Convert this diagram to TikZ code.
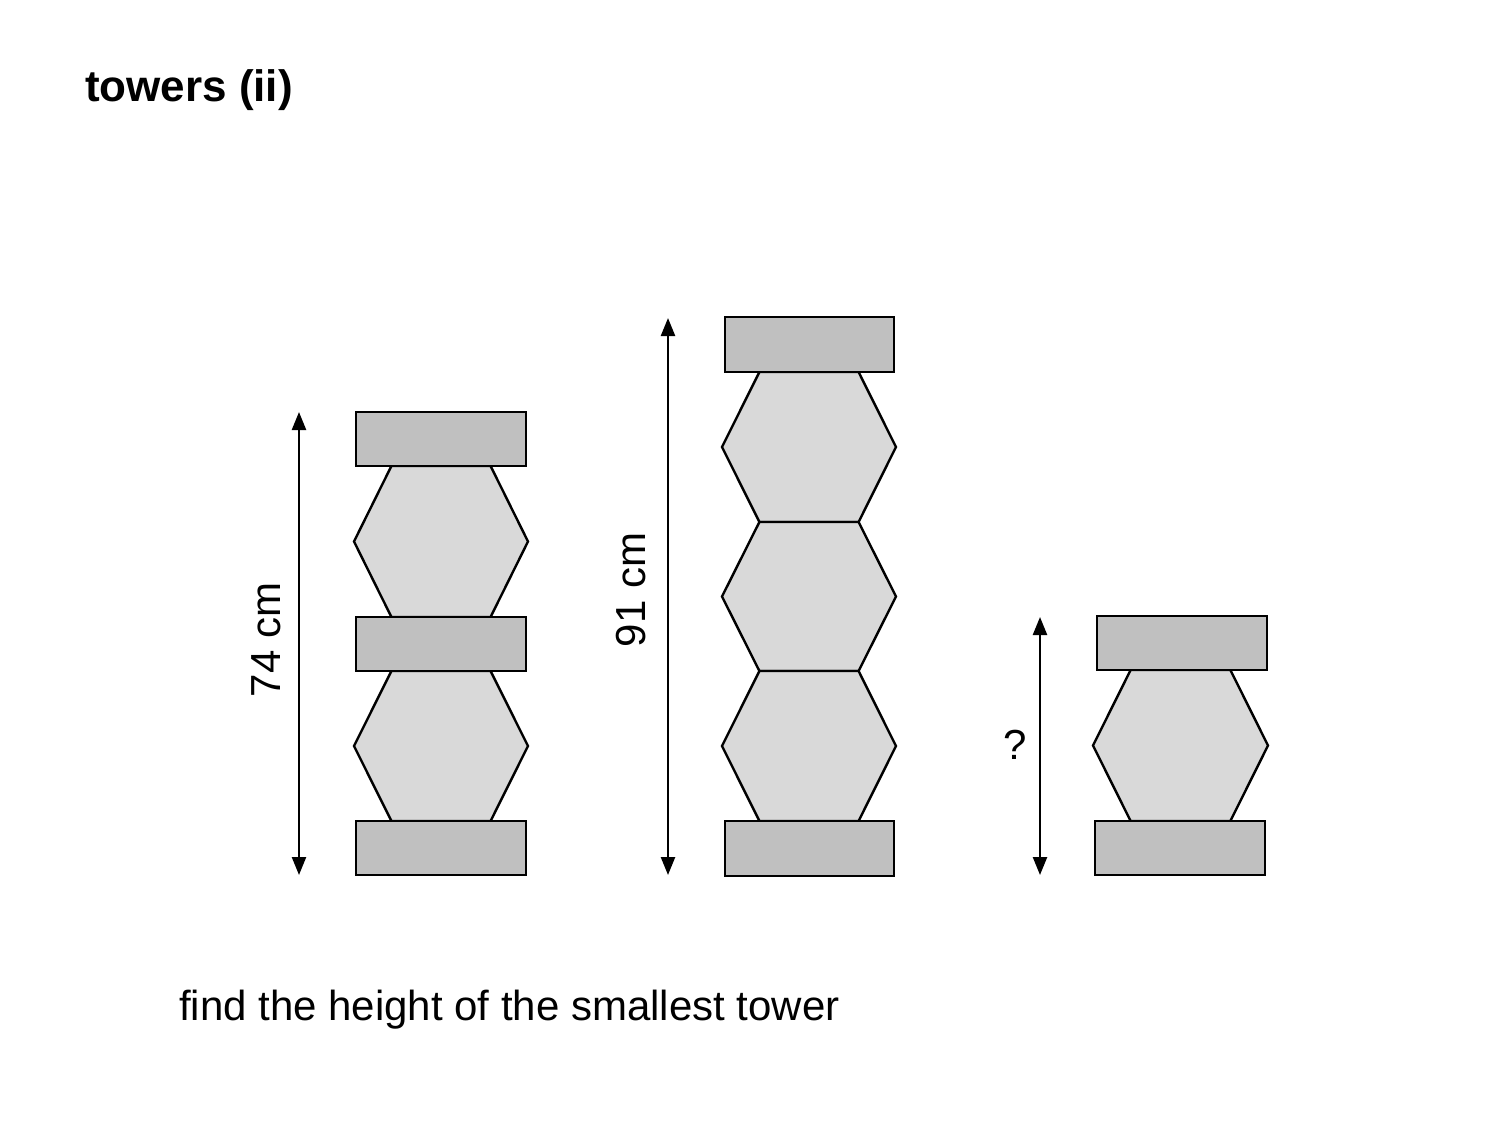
\documentclass[tikz,border=0pt]{standalone}
\usepackage{fontspec}
\setmainfont{Liberation Sans}
\usetikzlibrary{arrows.meta}
\definecolor{rectc}{HTML}{C0C0C0}
\definecolor{hexc}{HTML}{D9D9D9}
\tikzset{
  blk/.style={draw=black,line width=1.2pt,fill=rectc},
  hex/.style={draw=black,line width=1.2pt,fill=hexc,line join=miter},
  dim/.style={line width=1.2pt,{Triangle[length=9pt,width=7pt]}-{Triangle[length=9pt,width=7pt]}},
  lbl/.style={font=\fontsize{21}{24}\selectfont}
}
\newcommand{\hexa}[4]{% left x, right x, top y, bottom y ; inset 38*(w/174)
  \pgfmathsetmacro{\ins}{(#2-#1)*0.215}
  \draw[hex] ({#1+\ins},#3) -- ({#2-\ins},#3) -- (#2,{(#3+#4)/2}) -- ({#2-\ins},#4) -- ({#1+\ins},#4) -- (#1,{(#3+#4)/2}) -- cycle;}
\begin{document}
\begin{tikzpicture}[x=0.5pt,y=-0.5pt]
\useasboundingbox (0,0) rectangle (1500,1125);
\node[anchor=west,font=\fontsize{22}{26}\selectfont\bfseries] (title) at (78,90) {towers (ii)};
\node[anchor=west,lbl] (q) at (172,1010) {find the height of the smallest tower};
% tower 1
\hexa{354}{528}{466}{617}
\hexa{354}{528}{671}{821}
\draw[blk] (356,412) rectangle (526,466);
\draw[blk] (356,617) rectangle (526,671);
\draw[blk] (356,821) rectangle (526,875);
\coordinate (a1) at (299,412); \coordinate (b1) at (299,875);
\draw[dim] (b1) -- (a1);
\node[lbl,rotate=90] (l1) at (266,640) {74 cm};
% tower 2
\hexa{722}{896}{372}{522}
\hexa{722}{896}{522}{671}
\hexa{722}{896}{671}{821}
\draw[blk] (725,317) rectangle (894,372);
\draw[blk] (725,821) rectangle (894,876);
\coordinate (a2) at (668,318); \coordinate (b2) at (668,875);
\draw[dim] (b2) -- (a2);
\node[lbl,rotate=90] (l2) at (631,590) {91 cm};
% tower 3
\hexa{1093}{1268}{670}{821}
\draw[blk] (1097,616) rectangle (1267,670);
\draw[blk] (1095,821) rectangle (1265,875);
\coordinate (a3) at (1040,617); \coordinate (b3) at (1040,875);
\draw[dim] (b3) -- (a3);
\node[lbl] (l3) at (1015,745) {?};
\end{tikzpicture}
\end{document}
